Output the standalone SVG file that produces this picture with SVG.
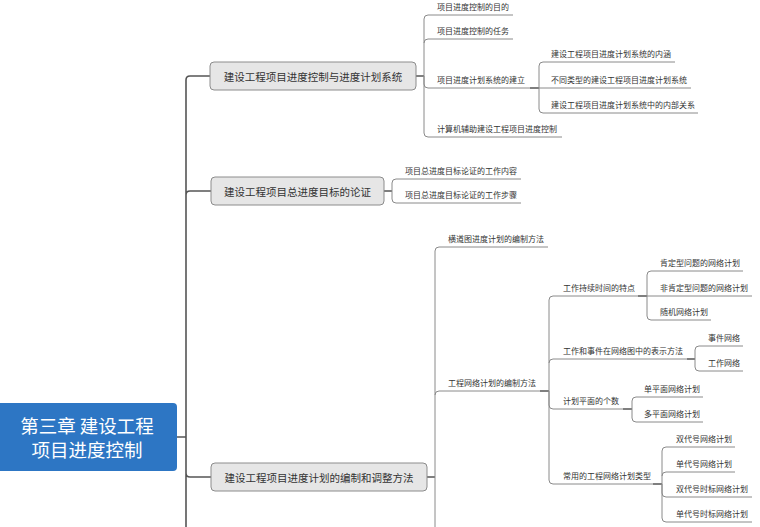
<svg xmlns="http://www.w3.org/2000/svg" width="760" height="527" viewBox="0 0 760 527">
<style>
.trunk{fill:none;stroke:#555;stroke-width:1.6}
.stub{fill:none;stroke:#555;stroke-width:1.6}
.ln{fill:none;stroke:#8a8a8a;stroke-width:1}
.box{fill:#e6e6e6;stroke:#8c8c8c;stroke-width:1}
.bt{font-family:"Noto Sans CJK SC","Noto Sans",sans-serif;font-size:10.5px;fill:#333;text-anchor:middle;dominant-baseline:central}
.lt{font-family:"Noto Sans CJK SC","Noto Sans",sans-serif;font-size:8px;fill:#333;dominant-baseline:central}
.rt{font-family:"Noto Sans CJK SC","Noto Sans",sans-serif;font-size:18.5px;fill:#fff;text-anchor:middle;dominant-baseline:central}
</style>
<rect width="760" height="527" fill="#fff"/>
<g id="connectors">
<path class="trunk" d="M177,437 H186 M186,437 V80 Q186,76 190,76 H210 M186,437 V80 M186,195 Q186,191 190,191 H211 M186,437 V473 Q186,477 190,477 H211 M186,437 V535"/>
<path class="stub" d="M416,76 H424 M384,191 H392 M427,477 H435 M530,88 H539 M540,391 H549 M638,296 H647 M687,359 H695 M623,409 H632 M653,484 H662"/>
<path class="ln" d="M424,76 V19 Q424,15 428,15 H513 M424,43 Q424,39 428,39 H513 M424,76 V84 Q424,88 428,88 H530 M424,76 V133 Q424,137 428,137 H562"/>
<path class="ln" d="M539,88 V66 Q539,62 543,62 H675 M539,88 H691 M539,88 V109 Q539,113 543,113 H698"/>
<path class="ln" d="M392,191 V183 Q392,179 396,179 H521 M392,191 V199 Q392,203 396,203 H521"/>
<path class="ln" d="M435,477 V251 Q435,247 439,247 H548 M435,395 Q435,391 439,391 H540 M435,477 V535"/>
<path class="ln" d="M549,391 V300 Q549,296 553,296 H638 M549,363 Q549,359 553,359 H687 M549,391 V405 Q549,409 553,409 H623 M549,391 V480 Q549,484 553,484 H653"/>
<path class="ln" d="M647,296 V275 Q647,271 651,271 H743 M647,296 H752 M647,296 V316 Q647,320 651,320 H711"/>
<path class="ln" d="M695,359 V350 Q695,346 699,346 H743 M695,359 V367 Q695,371 699,371 H743"/>
<path class="ln" d="M632,409 V401 Q632,397 636,397 H703 M632,409 V418 Q632,422 636,422 H703"/>
<path class="ln" d="M662,484 V451 Q662,447 666,447 H735 M662,476 Q662,472 666,472 H735 M662,484 V493 Q662,497 666,497 H752 M662,484 V518 Q662,522 666,522 H752"/>
</g>
<g id="root">
<rect x="-6" y="403" width="183" height="68" rx="4" fill="#2d76c4"/>
<text class="rt" x="87" y="425">第三章 建设工程</text>
<text class="rt" x="87" y="449">项目进度控制</text>
</g>
<g id="b1"><rect class="box" x="210" y="62" width="206" height="28" rx="4"/><text class="bt" x="313" y="76">建设工程项目进度控制与进度计划系统</text></g>
<g id="b2"><rect class="box" x="211" y="177" width="173" height="28" rx="4"/><text class="bt" x="297.5" y="191">建设工程项目总进度目标的论证</text></g>
<g id="b3"><rect class="box" x="211" y="463" width="216" height="28" rx="4"/><text class="bt" x="319" y="477">建设工程项目进度计划的编制和调整方法</text></g>
<g id="b1c1"><text class="lt" x="437" y="6">项目进度控制的目的</text></g>
<g id="b1c2"><text class="lt" x="437" y="30">项目进度控制的任务</text></g>
<g id="b1c3"><text class="lt" x="437" y="79">项目进度计划系统的建立</text></g>
<g id="b1c4"><text class="lt" x="437" y="128">计算机辅助建设工程项目进度控制</text></g>
<g id="b1c3a"><text class="lt" x="551" y="53">建设工程项目进度计划系统的内涵</text></g>
<g id="b1c3b"><text class="lt" x="551" y="79">不同类型的建设工程项目进度计划系统</text></g>
<g id="b1c3c"><text class="lt" x="551" y="104">建设工程项目进度计划系统中的内部关系</text></g>
<g id="b2c1"><text class="lt" x="405" y="170">项目总进度目标论证的工作内容</text></g>
<g id="b2c2"><text class="lt" x="405" y="194">项目总进度目标论证的工作步骤</text></g>
<g id="b3c1"><text class="lt" x="448" y="238">横道图进度计划的编制方法</text></g>
<g id="b3c2"><text class="lt" x="448" y="382">工程网络计划的编制方法</text></g>
<g id="n1"><text class="lt" x="563" y="287">工作持续时间的特点</text></g>
<g id="n2"><text class="lt" x="563" y="350">工作和事件在网络图中的表示方法</text></g>
<g id="n3"><text class="lt" x="563" y="400">计划平面的个数</text></g>
<g id="n4"><text class="lt" x="563" y="475">常用的工程网络计划类型</text></g>
<g id="n1a"><text class="lt" x="660" y="262">肯定型问题的网络计划</text></g>
<g id="n1b"><text class="lt" x="660" y="287">非肯定型问题的网络计划</text></g>
<g id="n1c"><text class="lt" x="660" y="311">随机网络计划</text></g>
<g id="n2a"><text class="lt" x="708" y="337">事件网络</text></g>
<g id="n2b"><text class="lt" x="708" y="362">工作网络</text></g>
<g id="n3a"><text class="lt" x="644" y="388">单平面网络计划</text></g>
<g id="n3b"><text class="lt" x="644" y="413">多平面网络计划</text></g>
<g id="n4a"><text class="lt" x="676" y="438">双代号网络计划</text></g>
<g id="n4b"><text class="lt" x="676" y="463">单代号网络计划</text></g>
<g id="n4c"><text class="lt" x="676" y="488">双代号时标网络计划</text></g>
<g id="n4d"><text class="lt" x="676" y="513">单代号时标网络计划</text></g>
</svg>
